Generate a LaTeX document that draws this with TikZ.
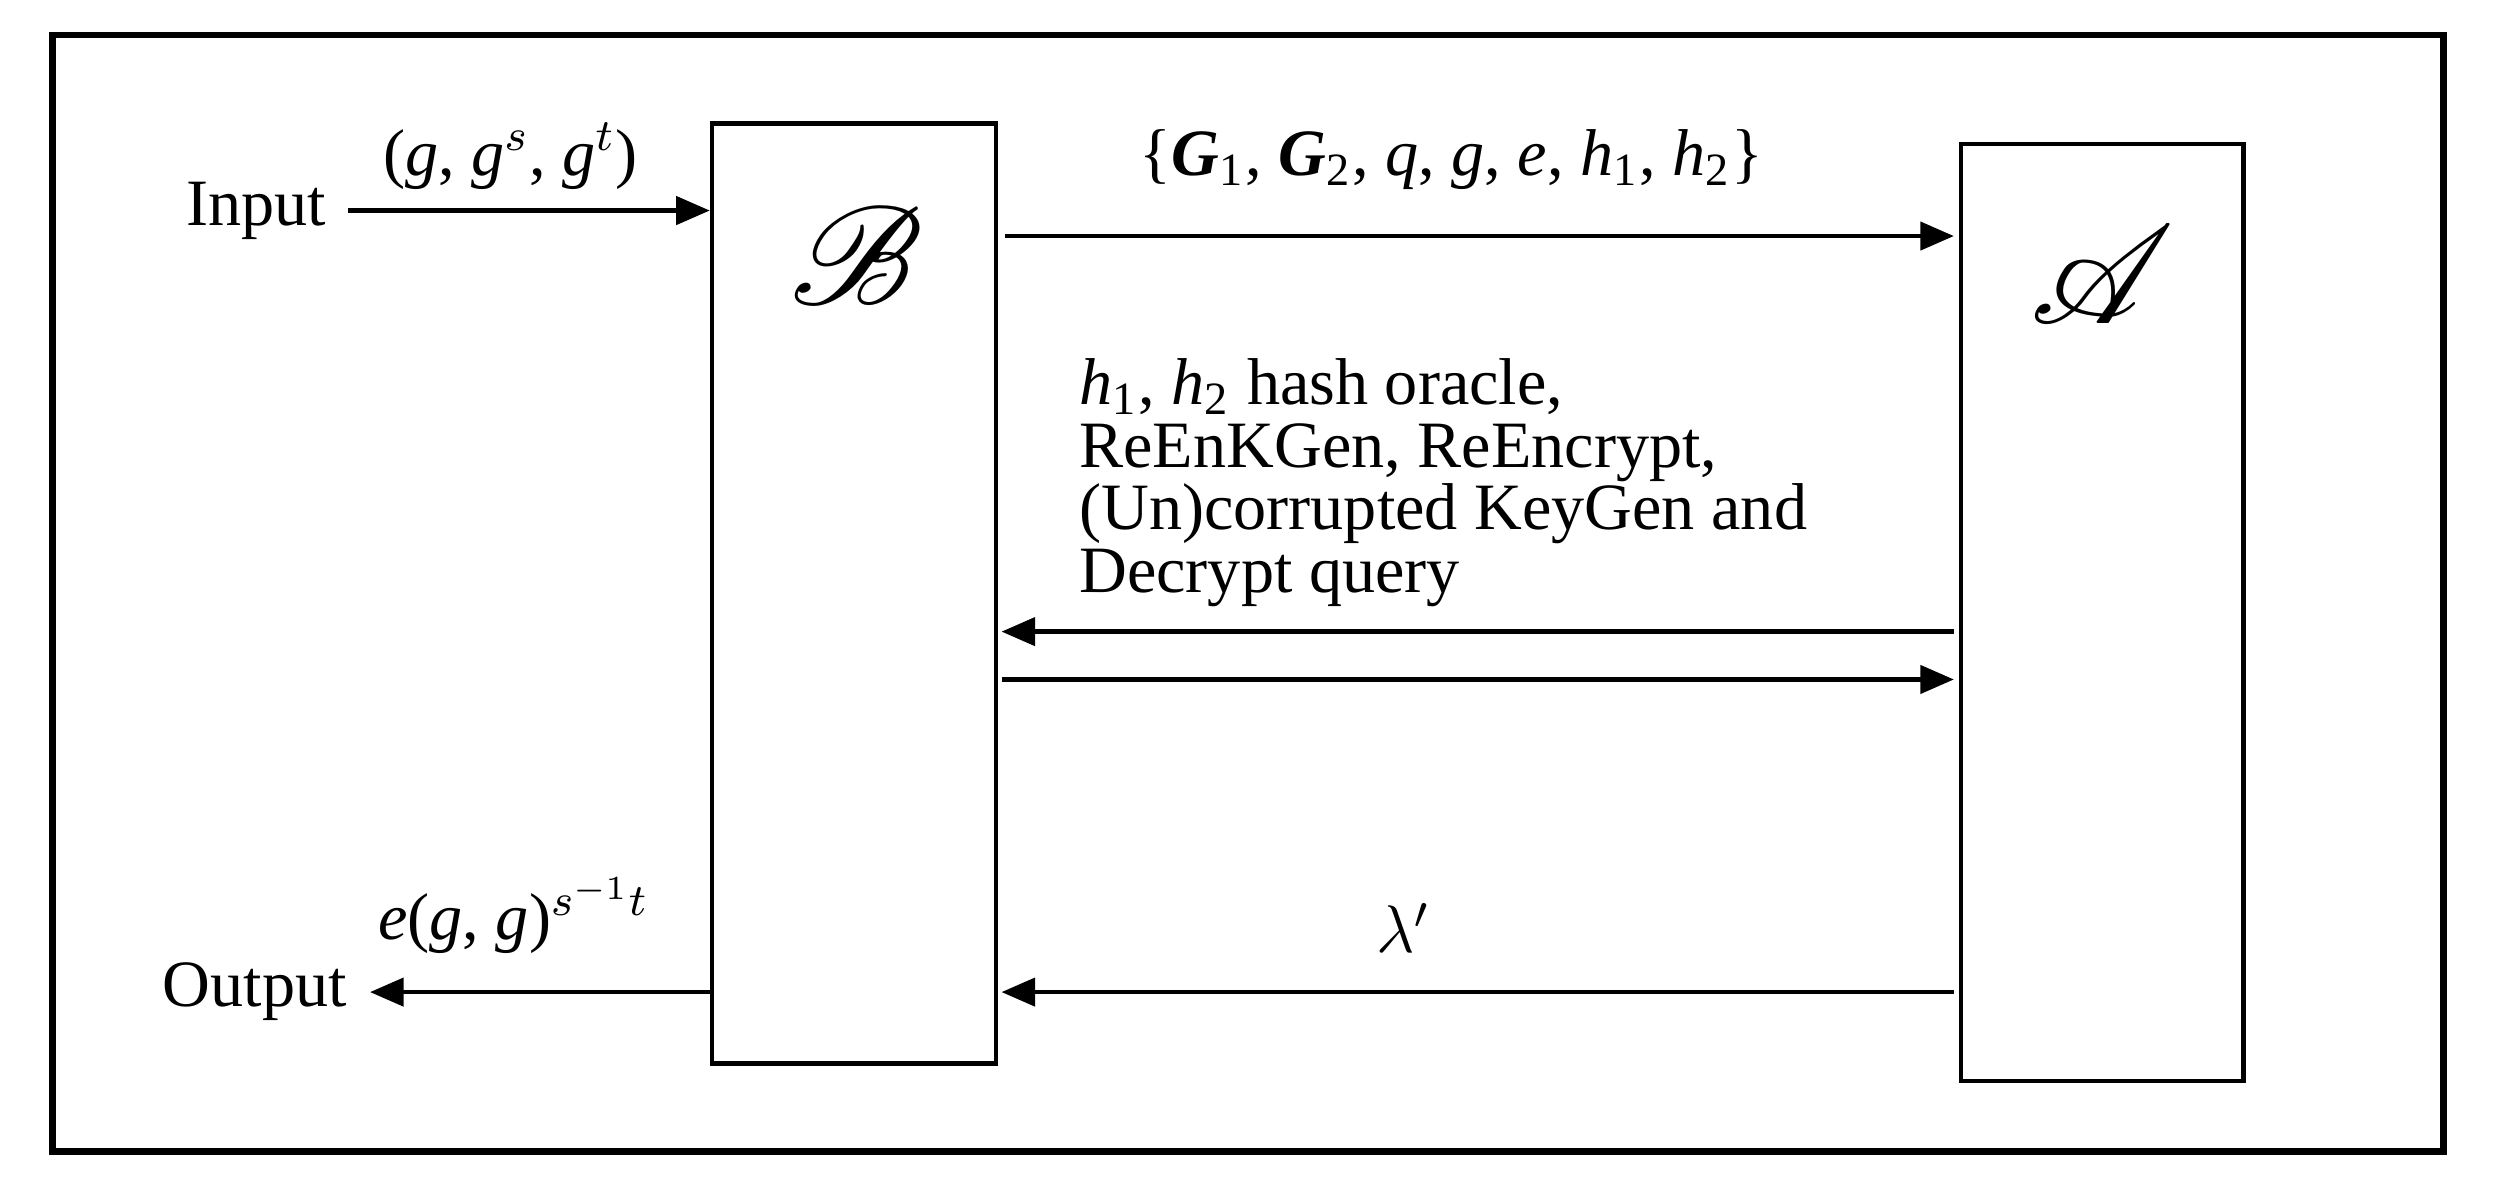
\documentclass[tikz,border=0pt]{standalone}
\usepackage{fontspec}
\setmainfont{Liberation Serif}
\usepackage{mathrsfs}
\usetikzlibrary{arrows.meta}
\begin{document}
\begin{tikzpicture}[x=0.01cm,y=-0.01cm,
  every node/.style={font=\fontsize{11.8}{14}\selectfont},
  box/.style={draw,line width=0.8pt,minimum width=1.78cm,minimum height=5.89cm,inner sep=0},
  arr/.style={line width=0.8pt,-{Triangle[length=6pt,width=5pt]}},
  lbl/.style={inner sep=1pt}]
\useasboundingbox (0,0) rectangle (1568,749);
\draw[line width=1.2pt] (33,22) rectangle (1532,722);
\node[box,anchor=north west] (B) at (445,76) {};
\node[box,anchor=north west,minimum width=1.77cm,minimum height=5.87cm] (A) at (1228,89) {};
\node at (537,160) {\fontsize{34}{38}\selectfont$\mathscr{B}$};
\node at (1318,172) {\fontsize{34}{38}\selectfont$\mathscr{A}$};
\node[anchor=east,inner sep=0] (in) at (205,132) {Input};
\node[anchor=east,inner sep=0] (out) at (218,622) {Output};
\coordinate (inE) at (218,132);
\coordinate (outE) at (232,622);
\draw[arr] (inE) -- (B.west |- inE);
\draw[arr] (B.west |- outE) -- (outE);
\node at (320,98) {(\textit{g}, \textit{g}$^{s}$, \textit{g}$^{t}$)};
\node at (322,574) {\textit{e}(\textit{g}, \textit{g})$^{s^{-1}t}$};
\coordinate (y1) at (0,148);
\coordinate (y2) at (0,396);
\coordinate (y3) at (0,426);
\coordinate (y4) at (0,622);
\draw[arr] ([xshift=0.04cm]B.east |- y1) -- ([xshift=-0.03cm]A.west |- y1);
\draw[arr] ([xshift=-0.03cm]A.west |- y2) -- ([xshift=0.02cm]B.east |- y2);
\draw[arr] ([xshift=0.02cm]B.east |- y3) -- ([xshift=-0.03cm]A.west |- y3);
\draw[arr] ([xshift=-0.03cm]A.west |- y4) -- ([xshift=0.02cm]B.east |- y4);
\node at (910,100) {\{\textbf{\textit{G}}\textsubscript{1}, \textbf{\textit{G}}\textsubscript{2}, \textit{q}, \textit{g}, \textit{e}, \textit{h}\textsubscript{1}, \textit{h}\textsubscript{2}\}};
\node[anchor=north west,align=left,inner sep=0,font=\fontsize{11.8}{11.2}\selectfont] (txt) at (676,224) {\textit{h}\textsubscript{1}, \textit{h}\textsubscript{2} hash oracle,\\ReEnKGen, ReEncrypt,\\(Un)corrupted KeyGen and\\Decrypt query};
\node at (880,582) {$\lambda'$};
\end{tikzpicture}
\end{document}
